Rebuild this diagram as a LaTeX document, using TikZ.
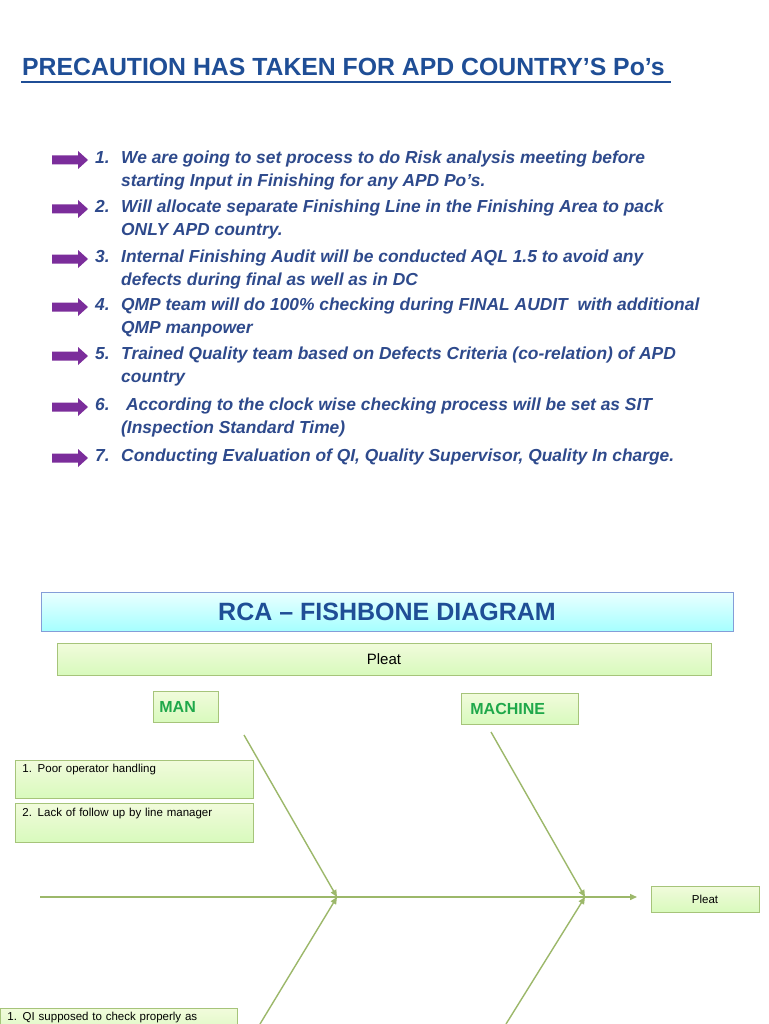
\documentclass[tikz,border=0pt]{standalone}
\usepackage{fontspec}
\setmainfont{Liberation Sans}
\usetikzlibrary{arrows.meta}
\definecolor{txtblue}{HTML}{2E4A8C}
\definecolor{ttlblue}{HTML}{1F4E96}
\definecolor{arrpur}{HTML}{7B2D9B}
\definecolor{boxgreen}{HTML}{E8F8C4}
\definecolor{boxedge}{HTML}{A6C47A}
\definecolor{bone}{HTML}{9CB86A}
\definecolor{catgreen}{HTML}{1FA84A}
\begin{document}
\begin{tikzpicture}[x=1pt,y=-1pt,
  item/.style={anchor=north west,inner sep=0pt,text=txtblue,font=\fontsize{17.4}{22.5}\selectfont\bfseries\itshape},
  parr/.style={draw=none,fill=arrpur},
  gbox/.style={draw=boxedge,line width=0.8pt,top color=boxgreen!60!white,bottom color=boxgreen!90!green!85,inner sep=0pt},
  cause/.style={gbox,anchor=north west,font=\fontsize{11.5}{13}\selectfont,text=black,align=left,text width=#1,inner xsep=7pt,inner ysep=0pt},
  bonel/.style={draw=bone,line width=1.4pt,-{Triangle[length=7pt,width=6pt]}}]
\useasboundingbox (0,0) rectangle (768,1024);
\fill[white] (0,0) rectangle (768,1024);
\node[anchor=west,inner sep=0pt,text=ttlblue,font=\fontsize{24.8}{27}\selectfont\bfseries] (title) at (22,67) {PRECAUTION HAS TAKEN FOR APD COUNTRY’S Po’s};
\draw[ttlblue,line width=1.3pt] (21,82) -- (671,82);
\foreach \y/\n/\t [count=\i] in {
 150/1./{We are going to set process to do Risk analysis meeting before\\&starting Input in Finishing for any APD Po’s.},
 199/2./{Will allocate separate Finishing Line in the Finishing Area to pack\\&ONLY APD country.},
 249/3./{Internal Finishing Audit will be conducted AQL 1.5 to avoid any\\&defects during final as well as in DC},
 297/4./{QMP team will do 100\% checking during FINAL AUDIT\ \ with additional\\&QMP manpower},
 346/5./{Trained Quality team based on Defects Criteria (co-relation) of APD\\&country},
 397/6./{\ According to the clock wise checking process will be set as SIT\\&(Inspection Standard Time)},
 448/7./{Conducting Evaluation of QI, Quality Supervisor, Quality In charge.}}{
 \fill[parr] (52,\y+5.5) -- (78,\y+5.5) -- (78,\y+1) -- (88,\y+10) -- (78,\y+19) -- (78,\y+14.5) -- (52,\y+14.5) -- cycle;
 \node[item] (t\i) at (95,\y-2) {\begin{tabular}{@{}p{26pt}@{}l@{}}\n&\t\end{tabular}};
}
% fishbone
\node[draw=cyan!40!blue!50,line width=0.8pt,top color=cyan!8,bottom color=cyan!35,minimum width=692pt,minimum height=39pt,inner sep=0pt,font=\fontsize{25}{28}\selectfont\bfseries,text=ttlblue] (rca) at (387,611.5) {RCA – FISHBONE DIAGRAM};
\node[gbox,minimum width=654pt,minimum height=32pt,font=\fontsize{15}{17}\selectfont] (pleat) at (384,659) {Pleat};
\node[gbox,minimum width=65pt,minimum height=31pt,font=\fontsize{16}{18}\selectfont\bfseries,text=catgreen,anchor=north west,inner xsep=6pt,inner ysep=5pt,align=left,text width=53pt] (man) at (153,691) {MAN};
\node[gbox,minimum width=117pt,minimum height=31pt,font=\fontsize{16}{18}\selectfont\bfseries,text=catgreen,anchor=north west,inner xsep=9pt,inner ysep=5pt,align=left,text width=99pt] (mach) at (461,693) {MACHINE};
\node[gbox,minimum width=108pt,minimum height=26pt,font=\fontsize{11.5}{13}\selectfont] (effect) at (705,899) {Pleat};
\node[cause=224pt,minimum width=238pt,minimum height=38pt,text depth=22pt,inner ysep=4pt] (c1) at (15,760) {1. Poor operator handling};
\node[cause=224pt,minimum width=238pt,minimum height=39pt,text depth=22pt,inner ysep=4pt] (c2) at (15,803) {2. Lack of follow up by line manager};
\node[cause=223pt,minimum width=237pt,minimum height=30pt,text depth=16pt,inner ysep=4pt] (c3) at (0,1008) {1. QI supposed to check properly as};
\coordinate (s0) at (40,897);
\coordinate (j1) at (337,897);
\coordinate (j2) at (585,897);
\coordinate (s1) at (637,897);
\draw[bone,line width=1.4pt] (s0) -- (j1) -- (j2);
\draw[bonel] (j2) -- (s1);
\coordinate (u1) at (244,735);
\coordinate (u2) at (491,732);
\coordinate (d1) at (260,1024);
\coordinate (d2) at (506,1024);
\draw[bonel] (u1) -- (j1);
\draw[bonel] (u2) -- (j2);
\draw[bonel] (d1) -- (j1);
\draw[bonel] (d2) -- (j2);
\end{tikzpicture}
\end{document}
